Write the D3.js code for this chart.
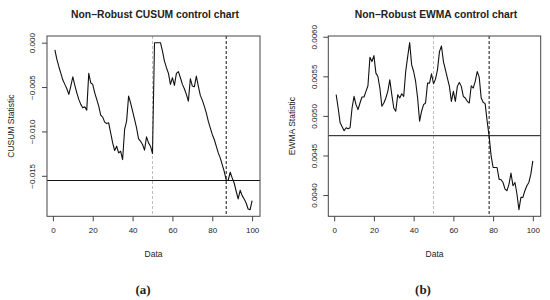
<!DOCTYPE html>
<html>
<head>
<meta charset="utf-8">
<script src="https://cdn.jsdelivr.net/npm/d3@7"></script>
<style>
  body { margin: 0; background: #fff; }
  text { font-family: "Liberation Sans", Arial, sans-serif; fill: #222; }
  .caption { font-family: "Liberation Serif", "DejaVu Serif", serif; font-weight: bold; }
</style>
</head>
<body>
<script>
var cusumValues = [
  -0.00082, -0.00187, -0.00271, -0.00346, -0.00421, -0.00470, -0.00519, -0.00583, -0.00489, -0.00384,
  -0.00481, -0.00565, -0.00639, -0.00695, -0.00734, -0.00723, -0.00760, -0.00346, -0.00452, -0.00470,
  -0.00565, -0.00639, -0.00715, -0.00816, -0.00839, -0.00895, -0.00910, -0.00903, -0.01016, -0.01129,
  -0.01215, -0.01166, -0.01242, -0.01223, -0.01317, -0.00978, -0.00884, -0.00602, -0.00677, -0.00771,
  -0.00865, -0.00960, -0.01084, -0.01110, -0.01147, -0.01211, -0.01061, -0.01129, -0.01166, -0.01249,
   0.00000,  0.00000,  0.00000,  0.00000, -0.00094, -0.00207, -0.00282, -0.00346, -0.00470, -0.00395,
  -0.00481, -0.00346, -0.00327, -0.00395, -0.00470, -0.00519, -0.00583, -0.00658, -0.00406, -0.00489,
  -0.00497, -0.00376, -0.00489, -0.00594, -0.00647, -0.00715, -0.00790, -0.00884, -0.00960, -0.01034,
  -0.01091, -0.01166, -0.01242, -0.01298, -0.01373, -0.01449, -0.01550, -0.01550, -0.01460, -0.01524,
  -0.01581, -0.01674, -0.01761, -0.01663, -0.01723, -0.01761, -0.01806, -0.01874, -0.01881, -0.01779
];
var ewmaValues = [
  0.005268, 0.005100, 0.004912, 0.004862, 0.004812, 0.004850, 0.004837, 0.004850, 0.005100, 0.005247,
  0.005142, 0.005080, 0.005163, 0.005239, 0.005239, 0.005310, 0.005381, 0.005741, 0.005686, 0.005762,
  0.005540, 0.005498, 0.005352, 0.005122, 0.005163, 0.005226, 0.005310, 0.005456, 0.005268, 0.005100,
  0.005059, 0.005268, 0.005226, 0.005280, 0.005247, 0.005561, 0.005749, 0.005925, 0.005644, 0.005561,
  0.005435, 0.005226, 0.004933, 0.005059, 0.005142, 0.005163, 0.005414, 0.005414, 0.005531, 0.005406,
  0.005465, 0.005582, 0.005812, 0.005883, 0.005686, 0.005582, 0.005477, 0.005373, 0.005184, 0.005310,
  0.005184, 0.005373, 0.005423, 0.005373, 0.005247, 0.005226, 0.005184, 0.005163, 0.005381, 0.005352,
  0.005435, 0.005561, 0.005490, 0.005226, 0.005172, 0.005155, 0.004933, 0.004745, 0.004494, 0.004348,
  0.004348, 0.004348, 0.004201, 0.004193, 0.004159, 0.004075, 0.004055, 0.004138, 0.004277, 0.004118,
  0.004159, 0.004013, 0.003816, 0.003971, 0.003971, 0.004055, 0.004118, 0.004159, 0.004264, 0.004431
];
var cusumLimit = -0.01553;
var ewmaLimit = 0.004750;
var shiftPoint = 50;
var cusumSignal = 87;
var ewmaSignal = 78;
var xTicks = [0, 20, 40, 60, 80, 100];
var cusumTicks = [0, -0.005, -0.010, -0.015];
var ewmaTicks = [0.0040, 0.0045, 0.0050, 0.0055, 0.0060];

var svg = d3.select("body").append("svg")
            .attr("width", 550)
            .attr("height", 300);

function drawPanel(p){
	var g = svg.append("g");
	var n = p.values.length;
	var top = 36, bottom = 216.3;

	// R style 4% padding on both axes
	var xPad = (n - 1) * 0.04;
	var x = d3.scaleLinear().domain([1 - xPad, n + xPad]).range([p.left, p.right]);
	var ext = d3.extent(p.values);
	var yPad = (ext[1] - ext[0]) * 0.04;
	var y = d3.scaleLinear().domain([ext[0] - yPad, ext[1] + yPad]).range([bottom, top]);

	// reference lines
	g.append("line")
	 .attr("x1", x(shiftPoint)).attr("x2", x(shiftPoint))
	 .attr("y1", top).attr("y2", bottom)
	 .attr("stroke", "#bdbdbd").attr("stroke-width", 1)
	 .attr("stroke-dasharray", "3,2");
	g.append("line")
	 .attr("x1", x(p.signal)).attr("x2", x(p.signal))
	 .attr("y1", top).attr("y2", bottom)
	 .attr("stroke", "#111").attr("stroke-width", 1)
	 .attr("stroke-dasharray", "3,2");
	g.append("line")
	 .attr("x1", p.left).attr("x2", p.right)
	 .attr("y1", y(p.limit)).attr("y2", y(p.limit))
	 .attr("stroke", "#111").attr("stroke-width", 1);

	var line = d3.line()
	             .x(function(d, i){ return x(i + 1); })
	             .y(function(d){ return y(d); });
	g.append("path")
	 .datum(p.values)
	 .attr("d", line)
	 .attr("fill", "none")
	 .attr("stroke", "#111")
	 .attr("stroke-width", 1.1)
	 .attr("stroke-linejoin", "round");

	// box
	g.append("rect")
	 .attr("x", p.left).attr("y", top)
	 .attr("width", p.right - p.left).attr("height", bottom - top)
	 .attr("fill", "none").attr("stroke", "#444").attr("stroke-width", 1);

	// x axis
	var xAxis = g.append("g")
	             .attr("transform", "translate(0," + bottom + ")")
	             .call(d3.axisBottom(x).tickValues(xTicks).tickSize(5).tickPadding(6).tickSizeOuter(0));
	xAxis.select(".domain").remove();
	xAxis.selectAll("line").attr("stroke", "#444");
	xAxis.selectAll("text").attr("font-size", 8).attr("fill", "#222")
	     .attr("font-family", "Liberation Sans, Arial, sans-serif");

	// y axis, labels parallel to the axis
	var yAxis = g.append("g")
	             .attr("transform", "translate(" + p.left + ",0)")
	             .call(d3.axisLeft(y).tickValues(p.ticks).tickSize(5).tickFormat(d3.format(p.fmt)).tickSizeOuter(0));
	yAxis.select(".domain").remove();
	yAxis.selectAll("line").attr("stroke", "#444");
	yAxis.selectAll("text")
	     .attr("font-size", 8).attr("fill", "#222")
	     .attr("font-family", "Liberation Sans, Arial, sans-serif")
	     .attr("x", null).attr("dy", null)
	     .attr("text-anchor", "middle")
	     .attr("transform", "translate(-11.8,0) rotate(-90)");

	// titles
	g.append("text")
	 .attr("x", (p.left + p.right) / 2 + 1.5).attr("y", 18)
	 .attr("text-anchor", "middle")
	 .attr("font-size", 10.3).attr("font-weight", "bold")
	 .text(p.title);
	g.append("text")
	 .attr("x", (p.left + p.right) / 2).attr("y", 257)
	 .attr("text-anchor", "middle")
	 .attr("font-size", 8.5)
	 .text("Data");
	g.append("text")
	 .attr("transform", "translate(" + (p.left - 33) + "," + ((top + bottom) / 2) + ") rotate(-90)")
	 .attr("text-anchor", "middle")
	 .attr("font-size", 8.5)
	 .text(p.ylab);
	g.append("text")
	 .attr("class", "caption")
	 .attr("x", p.caption).attr("y", 294)
	 .attr("text-anchor", "middle")
	 .attr("font-size", 13)
	 .text(p.tag);
}

drawPanel({values: cusumValues, limit: cusumLimit, signal: cusumSignal, ticks: cusumTicks, fmt: ".3f",
           left: 47, right: 260, title: "Non\u2212Robust CUSUM control chart", ylab: "CUSUM Statistic",
           tag: "(a)", caption: 143});
drawPanel({values: ewmaValues, limit: ewmaLimit, signal: ewmaSignal, ticks: ewmaTicks, fmt: ".4f",
           left: 328.3, right: 540.7, title: "Non\u2212Robust EWMA control chart", ylab: "EWMA Statistic",
           tag: "(b)", caption: 423});
</script>
</body>
</html>
